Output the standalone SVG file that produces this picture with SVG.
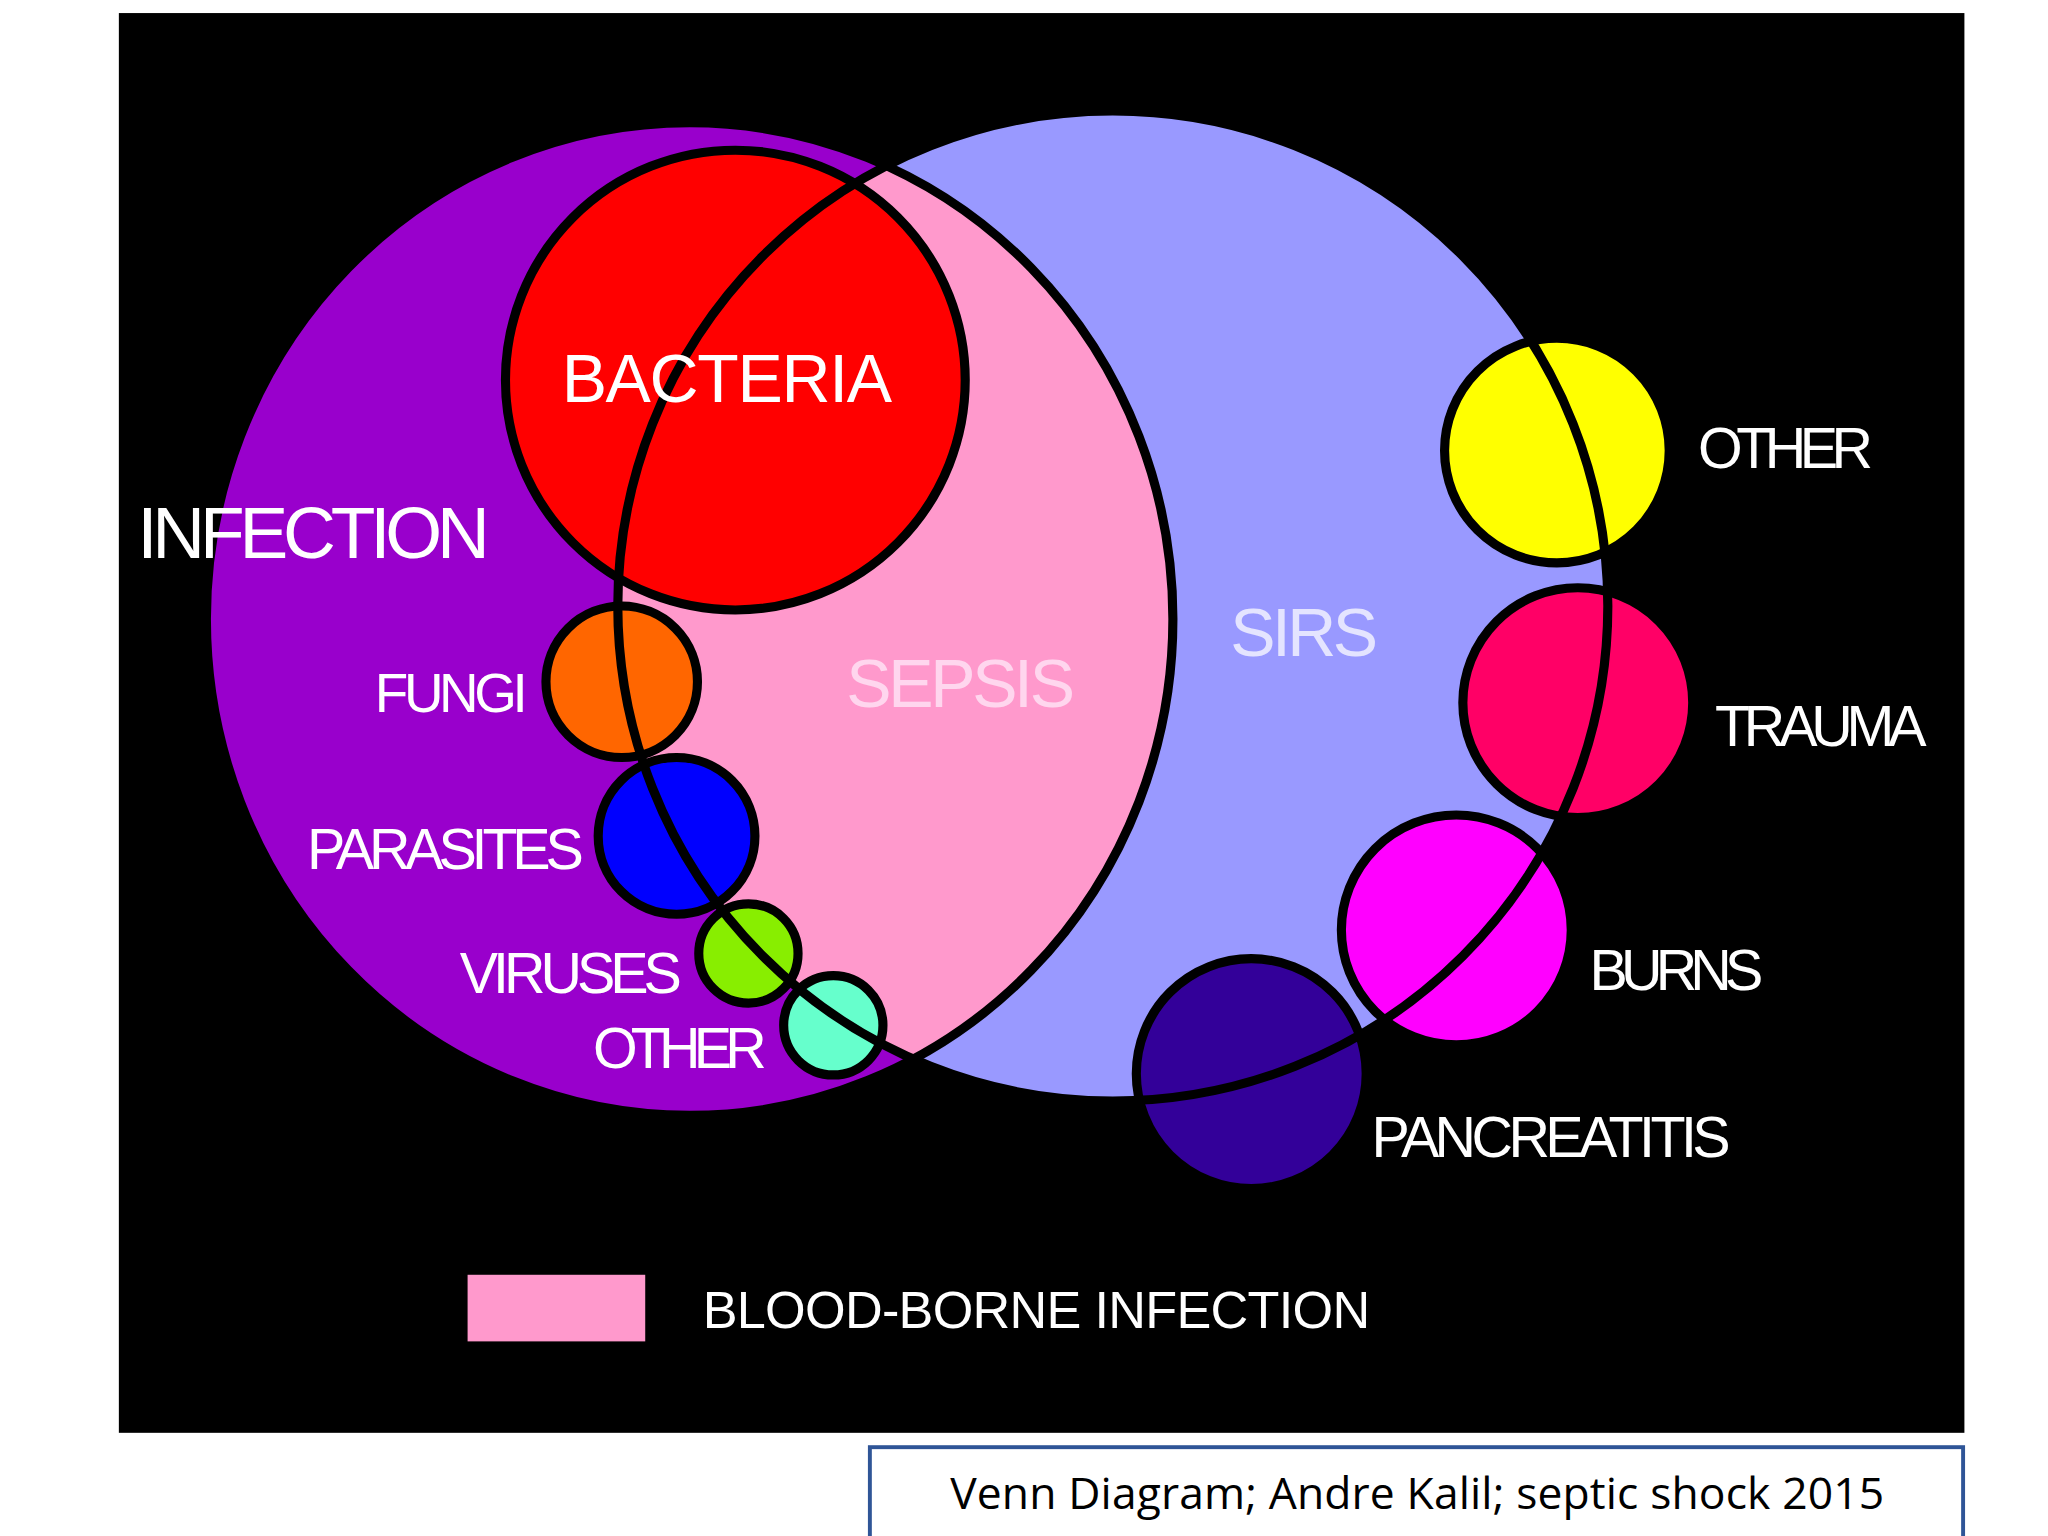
<svg xmlns="http://www.w3.org/2000/svg" width="2048" height="1536" viewBox="0 0 2048 1536">
<style>
.c{stroke:#000;stroke-width:7}
.t{font-family:"Liberation Sans",Arial,sans-serif;fill:#fff;font-weight:bold}
.n{font-weight:normal}
</style>
<defs>
<clipPath id="infClip"><ellipse cx="528" cy="474" rx="370" ry="380"/></clipPath>
</defs>
<rect width="2048" height="1536" fill="#fff"/>
<g transform="scale(1.30612)">
<rect x="91" y="10" width="1413" height="1087" fill="#000"/>
<g id="infection"><ellipse cx="528" cy="474" rx="370" ry="380" fill="#9900cc"/></g>
<g id="sirs"><circle cx="852" cy="464" r="379" fill="#9999ff"/></g>
<g id="sepsis"><circle cx="852" cy="464" r="379" fill="#ff99cc" clip-path="url(#infClip)"/></g>
<ellipse cx="528" cy="474" rx="370" ry="380" fill="none" class="c"/>
<g id="bacteria"><circle cx="563" cy="291" r="176" fill="#ff0000" class="c"/></g>
<g id="fungi"><circle cx="476" cy="522" r="58" fill="#ff6600" class="c"/></g>
<g id="parasites"><circle cx="518" cy="640" r="60" fill="#0000ff" class="c"/></g>
<g id="viruses"><circle cx="573" cy="730" r="38" fill="#88ee00" class="c"/></g>
<g id="other-inf"><circle cx="638" cy="785" r="38" fill="#66ffcc" class="c"/></g>
<g id="other-sirs"><circle cx="1192" cy="345" r="86" fill="#ffff00" class="c"/></g>
<g id="trauma"><circle cx="1208" cy="538" r="88" fill="#ff0066" class="c"/></g>
<g id="burns"><circle cx="1115" cy="712" r="88" fill="#ff00ff" class="c"/></g>
<g id="pancreatitis"><circle cx="958" cy="822" r="88" fill="#330099" class="c"/></g>
<circle cx="852" cy="464" r="379" fill="none" class="c"/>
<g class="t n">
<text x="430" y="308" font-size="52" textLength="253">BACTERIA</text>
<text x="105" y="427" font-size="56" textLength="270">INFECTION</text>
<text x="287" y="545" font-size="42" textLength="117">FUNGI</text>
<text x="648" y="541" font-size="52" textLength="175" fill="#ffd6ee">SEPSIS</text>
<text x="942" y="502" font-size="52" textLength="113" fill="#e4e4ff">SIRS</text>
<text x="235" y="665" font-size="44" textLength="212">PARASITES</text>
<text x="352" y="760" font-size="44" textLength="170">VIRUSES</text>
<text x="454" y="818" font-size="44" textLength="133">OTHER</text>
<text x="1300" y="358" font-size="44" textLength="134">OTHER</text>
<text x="1313" y="571" font-size="44" textLength="162">TRAUMA</text>
<text x="1217" y="758" font-size="44" textLength="133">BURNS</text>
<text x="1050" y="886" font-size="44" textLength="275">PANCREATITIS</text>
<text x="538" y="1017" font-size="40" textLength="511">BLOOD-BORNE INFECTION</text>
</g>
<rect x="358" y="976" width="136" height="51" fill="#ff99cc"/>
<rect x="666" y="1108" width="837" height="70" fill="#fff" stroke="#2f5597" stroke-width="3"/>
<text x="1085" y="1155" font-size="34" text-anchor="middle" font-family="'Open Sans','Liberation Sans',sans-serif" fill="#000" textLength="715">Venn Diagram; Andre Kalil; septic shock 2015</text>
</g>
</svg>
